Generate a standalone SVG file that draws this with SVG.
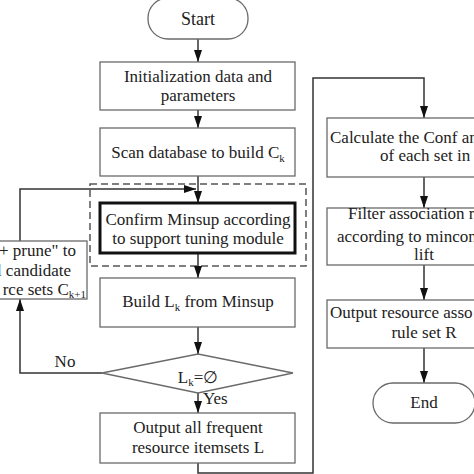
<svg xmlns="http://www.w3.org/2000/svg" width="474" height="474" viewBox="0 0 474 474">
<style>
.box{fill:#fff;stroke:#6a6a6a;stroke-width:1.3}
.thick{fill:#fff;stroke:#111;stroke-width:3}
.dash{fill:none;stroke:#555;stroke-width:1.5;stroke-dasharray:7 4}
.ln{fill:none;stroke:#333;stroke-width:1.5}
text{font-family:"Liberation Serif","Times New Roman",serif;font-size:17px;fill:#222}
.m{text-anchor:middle}
.e{text-anchor:end}
.sub{font-size:11px}
</style>
<defs>
<marker id="ah" markerUnits="userSpaceOnUse" markerWidth="12" markerHeight="8" refX="12" refY="4" orient="auto">
<path d="M0,0 L12,4 L0,8 Z" fill="#111"/>
</marker>
</defs>
<rect width="474" height="474" fill="#fff"/>
<rect class="dash" x="90" y="184" width="216" height="82"/>
<g id="connectors">
<path class="ln" d="M198,39 V62" marker-end="url(#ah)"/>
<path class="ln" d="M198,110 V128" marker-end="url(#ah)"/>
<path class="ln" d="M198,176 V203" marker-end="url(#ah)"/>
<path class="ln" d="M198,253 V278" marker-end="url(#ah)"/>
<path class="ln" d="M198,327 V354" marker-end="url(#ah)"/>
<path class="ln" d="M198,393 V413" marker-end="url(#ah)"/>
<path class="ln" d="M102,373 H20 V299" marker-end="url(#ah)"/>
<path class="ln" d="M20,241 V189 H196" marker-end="url(#ah)"/>
<path class="ln" d="M198,463 V473 H313 V78 H424 V118" marker-end="url(#ah)"/>
<path class="ln" d="M424,177 V208" marker-end="url(#ah)"/>
<path class="ln" d="M424,265 V300" marker-end="url(#ah)"/>
<path class="ln" d="M424,348 V383" marker-end="url(#ah)"/>
<text x="65" y="367" class="m">No</text>
<text x="203" y="404">Yes</text>
</g>
<g id="start">
<rect class="box" x="148" y="-2" width="100" height="41" rx="20"/>
<text x="198" y="25" class="m" style="font-size:18px">Start</text>
</g>
<g id="init">
<rect class="box" x="100" y="62" width="195" height="48"/>
<text x="198" y="82" class="m">Initialization data and</text>
<text x="198" y="101" class="m">parameters</text>
</g>
<g id="scan">
<rect class="box" x="100" y="128" width="195" height="48"/>
<text x="198" y="158" class="m">Scan database to build C<tspan class="sub" dy="4">k</tspan></text>
</g>
<g id="confirm">
<rect class="thick" x="100" y="203" width="195" height="50"/>
<text x="198" y="225" class="m">Confirm Minsup according</text>
<text x="198" y="244" class="m">to support tuning module</text>
</g>
<g id="join">
<rect class="box" x="-2" y="241" width="89" height="58"/>
<text x="76" y="256" class="e">+ prune" to</text>
<text x="71" y="276" class="e">l candidate</text>
<text x="86" y="295" class="e">rce sets C<tspan class="sub" dy="3">k+1</tspan></text>
</g>
<g id="buildL">
<rect class="box" x="100" y="278" width="195" height="49"/>
<text x="198" y="307" class="m">Build L<tspan class="sub" dy="4">k</tspan><tspan dy="-4"> from Minsup</tspan></text>
</g>
<g id="decision">
<polygon class="box" points="102,373 198,354 293,373 198,393"/>
<text x="198" y="383" class="m">L<tspan class="sub" dy="3">k</tspan><tspan dy="-3">=∅</tspan></text>
</g>
<g id="outL">
<rect class="box" x="100" y="413" width="195" height="50"/>
<text x="198" y="433" class="m">Output all frequent</text>
<text x="198" y="453" class="m">resource itemsets L</text>
</g>
<g id="calc">
<rect class="box" x="327" y="118" width="160" height="59"/>
<text x="330" y="143">Calculate the Conf an</text>
<text x="380" y="161">of each set in L</text>
</g>
<g id="filter">
<rect class="box" x="327" y="208" width="160" height="57"/>
<text x="348" y="219">Filter association r</text>
<text x="337" y="242">according to mincon</text>
<text x="424" y="260" class="m">lift</text>
</g>
<g id="outR">
<rect class="box" x="327" y="300" width="160" height="48"/>
<text x="330" y="318">Output resource asso</text>
<text x="424" y="338" class="m">rule set R</text>
</g>
<g id="end">
<rect class="box" x="373" y="383" width="102" height="40" rx="20"/>
<text x="424" y="408" class="m">End</text>
</g>
</svg>
